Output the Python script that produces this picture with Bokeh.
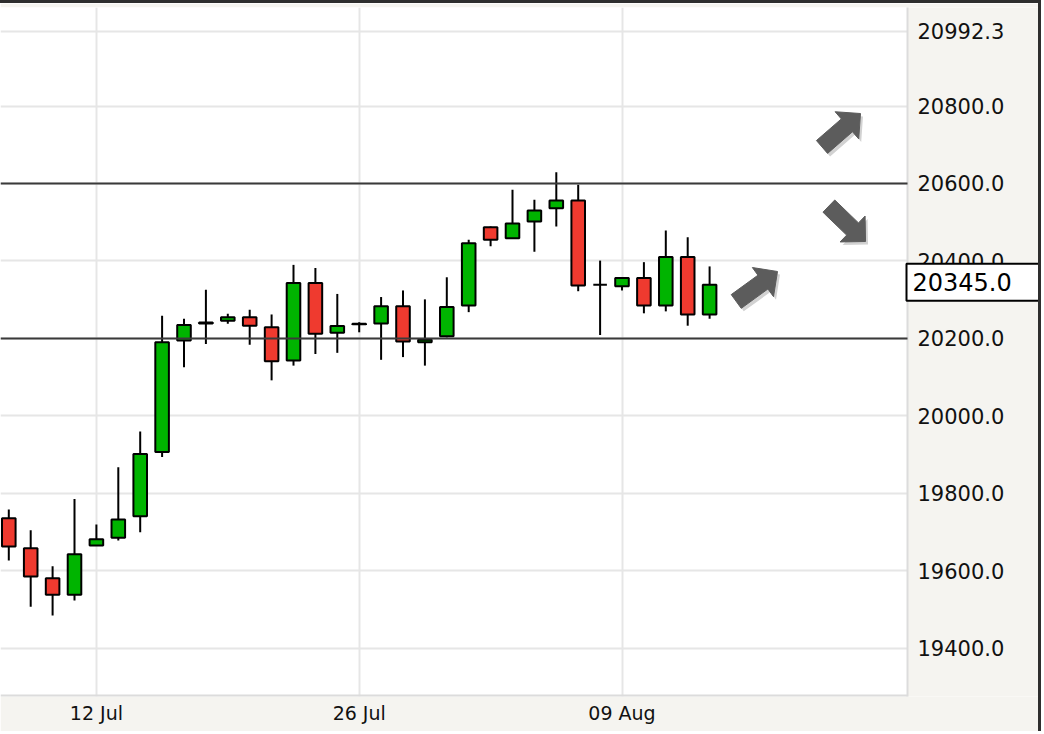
import numpy as np
from bokeh.plotting import figure
from bokeh.models import Range1d, FixedTicker, Label, ColumnDataSource
from bokeh.embed import file_html
from bokeh.resources import INLINE

# ---- data ----
opens  = [19736, 19659, 19581, 19539, 19666, 19686, 19741, 19907, 20195, 20239, 20246,
          20255, 20229, 20143, 20343, 20215, 20237, 20239, 20283, 20190, 20206, 20285,
          20487, 20459, 20502, 20536, 20556, 20339, 20335, 20356, 20285, 20410, 20262]
highs  = [19759, 19705, 19612, 19786, 19720, 19868, 19960, 20259, 20251, 20326, 20264,
          20274, 20262, 20390, 20382, 20315, 20242, 20307, 20324, 20301, 20358, 20455,
          20489, 20584, 20558, 20629, 20597, 20401, 20357, 20397, 20479, 20461, 20386]
lows   = [19627, 19508, 19485, 19524, 19665, 19679, 19700, 19894, 20126, 20186, 20238,
          20184, 20092, 20130, 20160, 20163, 20216, 20145, 20152, 20130, 20203, 20268,
          20438, 20458, 20424, 20489, 20322, 20209, 20324, 20265, 20270, 20233, 20251]
closes = [19663, 19586, 19539, 19643, 19682, 19733, 19902, 20190, 20235, 20241, 20255,
          20233, 20141, 20343, 20212, 20232, 20238, 20283, 20192, 20197, 20281, 20446,
          20455, 20497, 20530, 20556, 20337, 20339, 20356, 20285, 20410, 20262, 20339]

x_tick_idx = [4, 16, 28]
x_tick_labels = ["12 Jul", "26 Jul", "09 Aug"]
y_tick_values = [19400.0, 19600.0, 19800.0, 20000.0, 20200.0, 20400.0, 20600.0, 20800.0, 20992.3]
y_tick_labels = ["19400.0", "19600.0", "19800.0", "20000.0", "20200.0", "20400.0",
                 "20600.0", "20800.0", "20992.3"]
level_lines = [20600.0, 20200.0]
last_price = 20345.0
last_price_label = "20345.0"

# arrow icons: tip position (bar index, price) and direction in degrees
arrow_tip_x = [38.89, 39.12, 35.10]
arrow_tip_y = [20780.6, 20450.3, 20372.9]
arrow_angle = [41.0, -44.0, 36.0]

# ---- layout ----
W, H = 1041, 731
TOP = 4
FRAME_H = 689
PLOT_W = 907                 # width of the white chart area; the price scale sits right of it
X0, X1 = -0.379, 47.155      # frame spans the full width (chart area + price scale)
XA = X0 + (X1 - X0) * PLOT_W / W   # start of the price-scale zone
Y0, Y1 = 19276.1, 21054.2

RED = "#ef3a2f"
GREEN = "#00b400"
PANEL = "#f5f4f0"

p = figure(width=W, height=H, output_backend="svg", toolbar_location=None,
           x_range=Range1d(X0, X1), y_range=Range1d(Y0, Y1),
           x_axis_location="below", y_axis_location="right",
           min_border_left=0, min_border_top=TOP, min_border_right=0,
           min_border_bottom=H - FRAME_H - TOP)
p.styles = {"border-top": "3px solid #2e2e2e", "border-right": "3px solid #2e2e2e"}

p.background_fill_color = "white"
p.border_fill_color = PANEL
p.outline_line_color = None

# axes
for ax in (p.xaxis[0], p.yaxis[0]):
    ax.axis_line_color = None
    ax.major_tick_line_color = None
    ax.minor_tick_line_color = None
    ax.major_tick_out = 0
    ax.major_tick_in = 0
    ax.major_label_text_font = "DejaVu Sans"
    ax.major_label_text_color = "#111111"

p.xaxis.ticker = FixedTicker(ticks=x_tick_idx)
p.xaxis.major_label_overrides = {t: l for t, l in zip(x_tick_idx, x_tick_labels)}
p.xaxis.major_label_text_font_size = "19px"
p.xaxis.major_label_standoff = 5

p.yaxis.ticker = FixedTicker(ticks=y_tick_values)
p.yaxis.major_label_overrides = {t: l for t, l in zip(y_tick_values, y_tick_labels)}
p.yaxis.major_label_text_font_size = "21px"
p.yaxis.major_label_standoff = -(W - PLOT_W - 10)

p.xgrid.ticker = FixedTicker(ticks=x_tick_idx)
p.ygrid.ticker = FixedTicker(ticks=y_tick_values)
for g in (p.xgrid[0], p.ygrid[0]):
    g.grid_line_color = "#e6e6e6"
    g.grid_line_width = 2

px_x = W / (X1 - X0)
px_y = FRAME_H / (Y1 - Y0)
pad_y = 40 / px_y

# price-scale zone (covers the grid to the right of the chart area)
p.quad(left=XA, right=X1 + 1, bottom=Y0 - pad_y, top=Y1 + pad_y,
       fill_color=PANEL, line_color="#dcdcdc", line_width=2)
# bottom edge of the chart area
p.segment(x0=X0, y0=Y0, x1=XA, y1=Y0, line_color="#dcdcdc", line_width=4)

# candles
idx = list(range(len(opens)))
tops = [max(o, c) for o, c in zip(opens, closes)]
bots = [min(o, c) for o, c in zip(opens, closes)]
colors = [GREEN if c >= o else RED for o, c in zip(opens, closes)]
src = ColumnDataSource(dict(x=idx, high=highs, low=lows, top=tops, bottom=bots, color=colors))

p.segment(x0="x", y0="high", x1="x", y1="low", source=src, line_color="black", line_width=2)
p.vbar(x="x", width=0.62, top="top", bottom="bottom", source=src,
       fill_color="color", line_color="black", line_width=2)

# level lines across the chart area
lv_src = ColumnDataSource(dict(y=level_lines))
p.segment(x0=X0, y0="y", x1=XA, y1="y", source=lv_src, line_color="#3a3a3a", line_width=2)

# arrows (block arrows with soft shadow)
def arrow_poly(tx, ty, ang, L=51, sw=8.5, hw=18, hl=18, ox=0.0, oy=0.0):
    a = np.radians(ang)
    ux, uy = np.cos(a), np.sin(a)
    nx, ny = -uy, ux
    local = [(0, -sw), (L - hl, -sw), (L - hl, -hw), (L, 0), (L - hl, hw), (L - hl, sw), (0, sw)]
    xs, ys = [], []
    for u, n in local:
        sx = (u - L) * ux + n * nx + ox
        sy = (u - L) * uy + n * ny + oy
        xs.append(tx + sx / px_x)
        ys.append(ty + sy / px_y)
    return xs, ys

for tx, ty, ang in zip(arrow_tip_x, arrow_tip_y, arrow_angle):
    sxs, sys_ = arrow_poly(tx, ty, ang, ox=2.5, oy=-3.0)
    p.patch(sxs, sys_, fill_color="#d2d2d2", line_color=None)
    axs, ays = arrow_poly(tx, ty, ang)
    p.patch(axs, ays, fill_color="#5c5c5c", line_color="#5c5c5c", line_width=1)

# last price box on the price scale (drawn above the scale's labels)
half_h = 18.5 / px_y
p.quad(left=XA - 1.0 / px_x, right=X1 + 1, bottom=last_price - half_h, top=last_price + half_h,
       fill_color="white", line_color="black", line_width=2, level="overlay")
p.add_layout(Label(x=XA + 5.0 / px_x, y=last_price, x_units="data", y_units="data",
                   text=last_price_label, text_font="DejaVu Sans", text_font_size="24px",
                   text_color="black", text_align="left", text_baseline="middle",
                   level="overlay"))

open("out.html", "w").write(file_html(p, INLINE))
